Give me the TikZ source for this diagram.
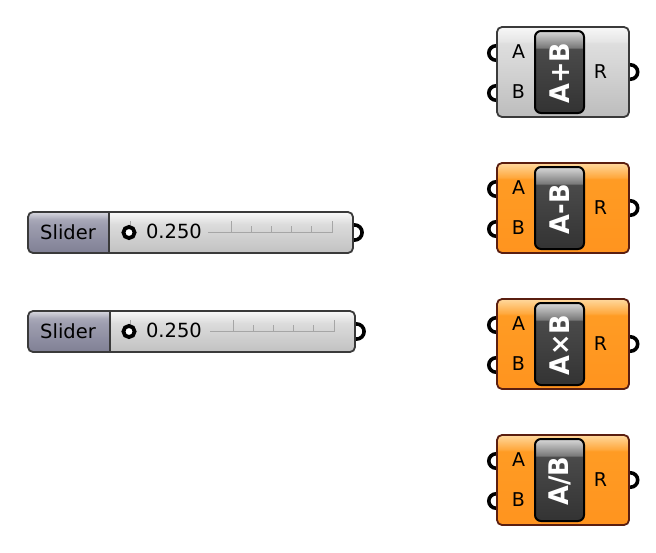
\documentclass[tikz,border=0pt]{standalone}
\usepackage{fontspec}
\setmainfont{DejaVu Sans}
\newfontfamily\corefont[FakeStretch=0.95]{DejaVu Sans}
\definecolor{grayedge}{HTML}{3A3A3A}
\definecolor{orangeedge}{HTML}{5A1E10}
\pgfdeclareverticalshading{compgray}{100bp}{
  rgb(0bp)=(0.74,0.74,0.74);
  rgb(25bp)=(0.74,0.74,0.74);
  rgb(55bp)=(0.84,0.84,0.84);
  rgb(66bp)=(0.87,0.87,0.87);
  rgb(67bp)=(0.90,0.90,0.90);
  rgb(75bp)=(0.97,0.97,0.97);
  rgb(100bp)=(0.97,0.97,0.97)}
\pgfdeclareverticalshading{comporange}{100bp}{
  rgb(0bp)=(1.0,0.58,0.12);
  rgb(25bp)=(1.0,0.58,0.12);
  rgb(66bp)=(1.0,0.61,0.14);
  rgb(67bp)=(1.0,0.66,0.24);
  rgb(75bp)=(1.0,0.85,0.62);
  rgb(100bp)=(1.0,0.85,0.62)}
\pgfdeclareverticalshading{darkcore}{100bp}{
  rgb(0bp)=(0.20,0.20,0.20);
  rgb(25bp)=(0.20,0.20,0.20);
  rgb(64bp)=(0.29,0.29,0.29);
  rgb(65bp)=(0.48,0.48,0.48);
  rgb(75bp)=(0.85,0.85,0.85);
  rgb(100bp)=(0.85,0.85,0.85)}
\pgfdeclareverticalshading{slidertag}{100bp}{
  rgb(0bp)=(0.50,0.50,0.58);
  rgb(25bp)=(0.50,0.50,0.58);
  rgb(60bp)=(0.62,0.62,0.69);
  rgb(66bp)=(0.66,0.66,0.72);
  rgb(75bp)=(0.85,0.85,0.88);
  rgb(100bp)=(0.85,0.85,0.88)}
\pgfdeclareverticalshading{sliderbody}{100bp}{
  rgb(0bp)=(0.76,0.76,0.76);
  rgb(25bp)=(0.76,0.76,0.76);
  rgb(60bp)=(0.86,0.86,0.86);
  rgb(75bp)=(0.98,0.98,0.98);
  rgb(100bp)=(0.98,0.98,0.98)}
\tikzset{
  x=1pt,y=-1pt,
  portring/.style={draw=black,line width=3.6pt,fill=white},
  ioletter/.style={font=\fontsize{19}{19}\selectfont,text=black,inner sep=0pt},
  corelabel/.style={font=\corefont\fontsize{27}{27}\selectfont\bfseries,text=white,inner sep=0pt,rotate=90},
  slidertext/.style={font=\fontsize{19.5}{19.5}\selectfont,text=black,inner sep=0pt},
  tickline/.style={draw=black!35,line width=1pt},
}
% #1 name, #2 top y, #3 shading, #4 edge colour, #5 core label
\newcommand{\mathcomp}[5]{
  \path[portring] (496,#2+26) circle (7.2);
  \path[portring] (496,#2+66) circle (7.2);
  \path[portring] (630.5,#2+45) circle (7.2);
  \shade[shading=#3,rounded corners=5pt] (497,#2) rectangle (629,#2+90);
  \draw[draw=#4,line width=1.8pt,rounded corners=5pt] (497,#2) rectangle (629,#2+90);
  \shade[shading=darkcore,rounded corners=6pt] (535,#2+4) rectangle (584,#2+86);
  \draw[draw=black,line width=2pt,rounded corners=6pt] (535,#2+4) rectangle (584,#2+86);
  \node[corelabel] (#1core) at (559.5,#2+46) {#5};
  \node[ioletter] (#1a) at (518.5,#2+25) {A};
  \node[ioletter] (#1b) at (518.5,#2+65) {B};
  \node[ioletter] (#1r) at (600.5,#2+45) {R};
}
% #1 name, #2 top y, #3 right x, #4 divider x, #5 tick start
\newcommand{\slidercomp}[5]{
  \path[portring] (#3+1.5,#2+20.5) circle (7.6);
  \shade[shading=sliderbody,rounded corners=5pt] (28,#2) rectangle (#3,#2+41);
  \begin{scope}
    \clip[rounded corners=5pt] (28,#2) rectangle (#3,#2+41);
    \shade[shading=slidertag] (28,#2) rectangle (#4,#2+41);
  \end{scope}
  \draw[draw=grayedge,line width=1.8pt,rounded corners=5pt] (28,#2) rectangle (#3,#2+41);
  \draw[draw=grayedge,line width=1.4pt] (#4,#2) -- (#4,#2+41);
  \draw[tickline] (#5,#2+20.5) -- (#5+125,#2+20.5);
  \draw[tickline] (#5+23,#2+9) -- (#5+23,#2+20.5);
  \foreach \k in {1,...,4}{
    \draw[tickline] (#5+23+\k*20.2,#2+14) -- (#5+23+\k*20.2,#2+20.5);
  }
  \draw[tickline] (#5+124,#2+9) -- (#5+124,#2+20.5);
  \draw[tickline] (130,#2+9) -- (130,#2+20.5);
  \node[slidertext] (#1tag) at (68,#2+20) {Slider};
  \path[draw=black,line width=3.8pt,fill=white] (129,#2+20.5) circle (5.6);
  \node[slidertext] (#1val) at (174,#2+19.5) {0.250};
}
\begin{document}
\begin{tikzpicture}
\useasboundingbox (0,0) rectangle (656,552);
\fill[white] (0,0) rectangle (656,552);
\mathcomp{add}{27}{compgray}{grayedge}{A+B}
\mathcomp{sub}{163}{comporange}{orangeedge}{A-B}
\mathcomp{mul}{299}{comporange}{orangeedge}{A×B}
\mathcomp{dvd}{435}{comporange}{orangeedge}{A/B}
\slidercomp{s}{212}{353}{109}{208}
\slidercomp{t}{311}{355}{110}{210}
\end{tikzpicture}
\end{document}
